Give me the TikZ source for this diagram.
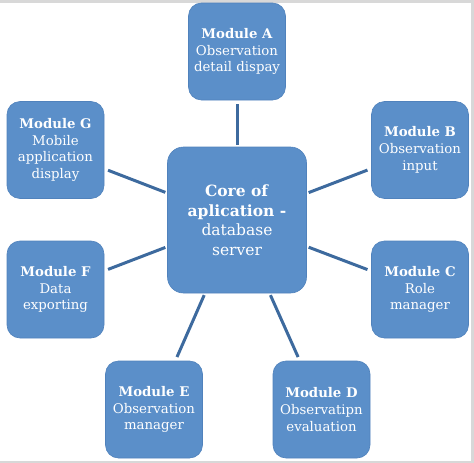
\documentclass[tikz,border=0pt]{standalone}
\usepackage{fontspec}
\setmainfont{DejaVu Serif}
\definecolor{boxblue}{RGB}{91,143,201}
\definecolor{boxedge}{RGB}{80,130,188}
\definecolor{linkblue}{RGB}{61,106,158}
\definecolor{framegray}{RGB}{216,216,216}
\tikzset{
  modbox/.style={draw=boxedge, line width=0.6pt, fill=boxblue, rounded corners=13pt,
    minimum width=97pt, minimum height=97pt, inner sep=0pt, align=center,
    text=white, font=\fontsize{13.3pt}{16.8pt}\selectfont},
  corebox/.style={draw=boxedge, line width=0.6pt, fill=boxblue, rounded corners=16pt,
    minimum width=139pt, minimum height=146pt, inner sep=0pt, align=center,
    text=white, font=\fontsize{15.5pt}{19.5pt}\selectfont},
  link/.style={draw=linkblue, line width=3pt, shorten >=2pt, shorten <=4pt}
}
\begin{document}
\begin{tikzpicture}[x=1pt,y=-1pt]
\useasboundingbox (0,0) rectangle (474,463);
\fill[framegray] (0,0) rectangle (474,2.5);
\fill[framegray] (471,0) rectangle (474,463);
\fill[framegray] (0,460.5) rectangle (474,463);

\node[corebox] (core) at (237,220) {\textbf{Core of}\\\textbf{aplication -}\\database\\server};
\node[modbox] (A) at (237,51.5) {\textbf{Module A}\\Observation\\detail dispay};
\node[modbox] (B) at (420,150) {\textbf{Module B}\\Observation\\input};
\node[modbox] (C) at (420,289.5) {\textbf{Module C}\\Role\\manager};
\node[modbox] (D) at (321.5,409.5) {\textbf{Module D}\\Observatipn\\evaluation};
\node[modbox] (E) at (154,409.5) {\textbf{Module E}\\Observation\\manager};
\node[modbox] (F) at (55.5,289.5) {\textbf{Module F}\\Data\\exporting};
\node[modbox] (G) at (55.5,150) {\textbf{Module G}\\Mobile\\application\\display};

\foreach \m in {A,B,C,D,E,F,G}{
  \draw[link] (\m) -- (core);
}
\end{tikzpicture}
\end{document}
